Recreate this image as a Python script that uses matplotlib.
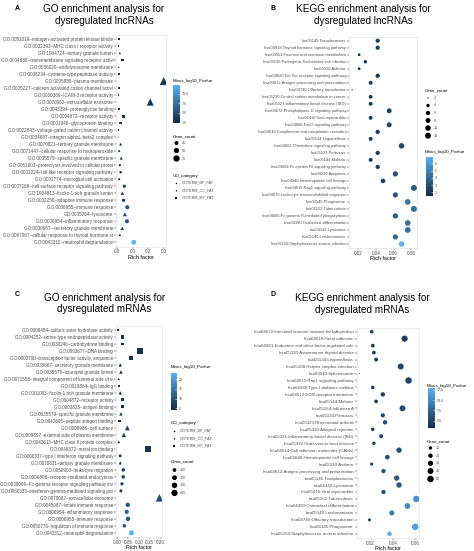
import numpy as np
import matplotlib
matplotlib.use("Agg")
import matplotlib.pyplot as plt
from matplotlib.colors import LinearSegmentedColormap, Normalize
from matplotlib.cm import ScalarMappable

plt.rcParams['font.family'] = ['Liberation Sans', 'DejaVu Sans']

# ---------------- data ----------------
labelsA = [
    "GO:0051019~mitogen-activated protein kinase bindin",
    "GO:0032393~MHC class I receptor activity",
    "GO:1904724~tertiary granule lumen",
    "GO:0004888~transmembrane signaling receptor activi",
    "GO:0036020~endolysosome membrane",
    "GO:0008234~cysteine-type peptidase activity",
    "GO:0005886~plasma membrane",
    "GO:0005227~calcium activated cation channel activi",
    "GO:0030369~ICAM-3 receptor activity",
    "GO:0070062~extracellular exosome",
    "GO:0043394~proteoglycan binding",
    "GO:0004872~receptor activity",
    "GO:0001948~glycoprotein binding",
    "GO:0022843~voltage-gated cation channel activity",
    "GO:0034687~integrin alphaL-beta2 complex",
    "GO:0070821~tertiary granule membrane",
    "GO:0071447~cellular response to hydroperoxide",
    "GO:0035579~specific granule membrane",
    "GO:0051603~proteolysis involved in cellular protei",
    "GO:0002224~toll-like receptor signaling pathway",
    "GO:0001774~microglial cell activation",
    "GO:0007166~cell surface receptor signaling pathway",
    "GO:1904813~ficolin-1-rich granule lumen",
    "GO:0002250~adaptive immune response",
    "GO:0006955~immune response",
    "GO:0005764~lysosome",
    "GO:0006954~inflammatory response",
    "GO:0030667~secretory granule membrane",
    "GO:0097067~cellular response to thyroid hormone st",
    "GO:0043312~neutrophil degranulation",
]
catA = ['MF', 'MF', 'CC', 'MF', 'CC', 'MF', 'CC', 'MF', 'MF', 'CC',
        'MF', 'MF', 'MF', 'MF', 'CC', 'CC', 'BP', 'CC', 'BP', 'BP',
        'BP', 'BP', 'CC', 'BP', 'BP', 'CC', 'BP', 'CC', 'BP', 'BP']
richA = [0.013, 0.009, 0.017, 0.035, 0.009, 0.013, 0.300, 0.013, 0.009, 0.213,
         0.013, 0.039, 0.022, 0.009, 0.007, 0.022, 0.013, 0.026, 0.017, 0.022,
         0.013, 0.046, 0.033, 0.041, 0.065, 0.050, 0.063, 0.033, 0.017, 0.107]
countA = [6, 3, 5, 12, 3, 6, 95, 6, 3, 72,
          6, 14, 8, 3, 2, 8, 5, 9, 6, 8,
          5, 15, 12, 15, 26, 18, 25, 12, 5, 40]
pvalA = [2.8, 2.5, 2.9, 3.0, 2.5, 2.8, 3.5, 2.8, 2.5, 3.3,
         2.8, 3.2, 2.9, 2.5, 2.4, 3.0, 2.7, 3.2, 2.8, 3.0,
         2.7, 3.6, 3.4, 3.9, 5.5, 4.5, 5.0, 3.5, 2.7, 12.2]

labelsB = [
    "hsa05145:Toxoplasmosis",
    "hsa04918:Thyroid hormone signaling pathway",
    "hsa00051:Fructose and mannose metabolism",
    "hsa05130:Pathogenic Escherichia coli infection",
    "hsa05310:Asthma",
    "hsa04620:Toll-like receptor signaling pathway",
    "hsa04612:Antigen processing and presentation",
    "hsa04740:Olfactory transduction",
    "hsa05230:Central carbon metabolism in cancer",
    "hsa05321:Inflammatory bowel disease (IBD)",
    "hsa04072:Phospholipase D signaling pathway",
    "hsa05416:Viral myocarditis",
    "hsa04068:FoxO signaling pathway",
    "hsa04610:Complement and coagulation cascades",
    "hsa05134:Legionellosis",
    "hsa04062:Chemokine signaling pathway",
    "hsa05133:Pertussis",
    "hsa05144:Malaria",
    "hsa04664:Fc epsilon RI signaling pathway",
    "hsa04210:Apoptosis",
    "hsa04640:Hematopoietic cell lineage",
    "hsa04015:Rap1 signaling pathway",
    "hsa04670:Leukocyte transendothelial migration",
    "hsa04145:Phagosome",
    "hsa05152:Tuberculosis",
    "hsa04666:Fc gamma R-mediated phagocytosis",
    "hsa04380:Osteoclast differentiation",
    "hsa04142:Lysosome",
    "hsa05140:Leishmaniasis",
    "hsa05150:Staphylococcus aureus infection",
]
richB = [0.042, 0.042, 0.021, 0.028, 0.021, 0.042, 0.034, 0.013, 0.034, 0.034,
         0.055, 0.034, 0.055, 0.042, 0.034, 0.069, 0.042, 0.034, 0.042, 0.062,
         0.048, 0.083, 0.062, 0.076, 0.083, 0.062, 0.076, 0.076, 0.062, 0.069]
countB = [6, 6, 3, 4, 3, 6, 5, 2, 5, 5,
          8, 5, 8, 6, 5, 10, 6, 5, 6, 9,
          7, 12, 9, 11, 12, 9, 11, 11, 9, 10]
pvalB = [2.3, 2.3, 1.8, 1.8, 1.7, 2.2, 2.0, 1.5, 2.0, 2.0,
         2.5, 2.0, 2.5, 2.2, 2.0, 2.6, 2.3, 2.0, 2.3, 3.0,
         2.3, 3.6, 3.2, 4.5, 4.3, 3.5, 4.3, 4.3, 4.0, 6.9]

labelsC = [
    "GO:0008484~sulfuric ester hydrolase activity",
    "GO:0004252~serine-type endopeptidase activity",
    "GO:0030246~carbohydrate binding",
    "GO:0003677~DNA binding",
    "GO:0003700~transcription factor activity, sequence",
    "GO:0030667~secretory granule membrane",
    "GO:0035578~azurophil granule lumen",
    "GO:0071556~integral component of lumenal side of e",
    "GO:0019864~IgG binding",
    "GO:0101003~ficolin-1-rich granule membrane",
    "GO:0004872~receptor activity",
    "GO:0003823~antigen binding",
    "GO:0035579~specific granule membrane",
    "GO:0042605~peptide antigen binding",
    "GO:0009986~cell surface",
    "GO:0009897~external side of plasma membrane",
    "GO:0042613~MHC class II protein complex",
    "GO:0046872~metal ion binding",
    "GO:0060337~type I interferon signaling pathway",
    "GO:0070821~tertiary granule membrane",
    "GO:0050900~leukocyte migration",
    "GO:0006898~receptor-mediated endocytosis",
    "GO:0038096~Fc-gamma receptor signaling pathway inv",
    "GO:0060333~interferon-gamma-mediated signaling pat",
    "GO:0070062~extracellular exosome",
    "GO:0045087~innate immune response",
    "GO:0006954~inflammatory response",
    "GO:0006955~immune response",
    "GO:0050776~regulation of immune response",
    "GO:0043312~neutrophil degranulation",
]
catC = ['MF', 'MF', 'MF', 'MF', 'MF', 'CC', 'CC', 'CC', 'MF', 'CC',
        'MF', 'MF', 'CC', 'MF', 'CC', 'CC', 'CC', 'MF', 'BP', 'CC',
        'BP', 'BP', 'BP', 'BP', 'CC', 'BP', 'BP', 'BP', 'BP', 'BP']
richC = [0.003, 0.025, 0.022, 0.105, 0.063, 0.013, 0.016, 0.006, 0.006, 0.013,
         0.025, 0.025, 0.016, 0.010, 0.046, 0.030, 0.006, 0.141, 0.013, 0.013,
         0.027, 0.027, 0.021, 0.016, 0.195, 0.048, 0.043, 0.049, 0.032, 0.065]
countC = [5, 70, 60, 330, 230, 45, 50, 15, 20, 40,
          70, 70, 45, 30, 140, 100, 20, 420, 40, 40,
          80, 80, 60, 50, 460, 150, 140, 160, 90, 230]
pvalC = [4.1, 5.5, 5.0, 5.0, 5.2, 5.5, 5.0, 4.5, 4.6, 5.0,
         5.5, 5.5, 5.3, 4.8, 7.0, 6.0, 4.6, 5.2, 5.5, 5.0,
         7.0, 7.0, 6.2, 5.5, 9.5, 9.5, 12.0, 10.0, 11.0, 23.1]

labelsD = [
    "hsa04672:Intestinal immune network for IgA product",
    "hsa04510:Focal adhesion",
    "hsa04961:Endocrine and other factor-regulated calc",
    "hsa05320:Autoimmune thyroid disease",
    "hsa05134:Legionellosis",
    "hsa05168:Herpes simplex infection",
    "hsa03040:Spliceosome",
    "hsa04015:Rap1 signaling pathway",
    "hsa04940:Type I diabetes mellitus",
    "hsa04512:ECM-receptor interaction",
    "hsa05144:Malaria",
    "hsa05164:Influenza A",
    "hsa05133:Pertussis",
    "hsa05323:Rheumatoid arthritis",
    "hsa05330:Allograft rejection",
    "hsa05321:Inflammatory bowel disease (IBD)",
    "hsa05332:Graft-versus-host disease",
    "hsa04514:Cell adhesion molecules (CAMs)",
    "hsa04640:Hematopoietic cell lineage",
    "hsa05310:Asthma",
    "hsa04612:Antigen processing and presentation",
    "hsa05145:Toxoplasmosis",
    "hsa04142:Lysosome",
    "hsa05416:Viral myocarditis",
    "hsa05152:Tuberculosis",
    "hsa04380:Osteoclast differentiation",
    "hsa05140:Leishmaniasis",
    "hsa04740:Olfactory transduction",
    "hsa04145:Phagosome",
    "hsa05150:Staphylococcus aureus infection",
]
richD = [0.021, 0.0505, 0.022, 0.023, 0.025, 0.047, 0.010, 0.054, 0.022, 0.031,
         0.025, 0.0486, 0.031, 0.033, 0.022, 0.0295, 0.023, 0.0455, 0.035, 0.021,
         0.0316, 0.0434, 0.0455, 0.0316, 0.061, 0.053, 0.039, 0.019, 0.060, 0.037]
countD = [12, 45, 13, 13, 15, 42, 1, 50, 11, 20,
          13, 40, 18, 20, 11, 16, 11, 33, 22, 8,
          18, 32, 33, 18, 52, 38, 28, 8, 50, 22]
pvalD = [4.5, 4.5, 4.0, 4.2, 4.5, 5.0, 3.1, 5.0, 4.0, 4.5,
         4.2, 5.5, 5.0, 5.5, 4.5, 5.0, 4.5, 6.0, 5.5, 4.2,
         5.5, 6.5, 6.5, 5.5, 10.5, 10.0, 9.0, 5.0, 11.5, 12.9]

go_categories = ['BP', 'CC', 'MF']
go_cat_labels = ['GOTERM_BP_FAT', 'GOTERM_CC_FAT', 'GOTERM_MF_FAT']

# ---------------- style ----------------
W, H = 474, 551
DPI = 100
cmap = LinearSegmentedColormap.from_list('gg', ['#132B43', '#56B1F7'])
shape_map = {'BP': 'o', 'CC': '^', 'MF': 's'}
shape_scale = {'BP': 1.0, 'CC': 1.15, 'MF': 0.9}
TXT = '#4D4D4D'

fig = plt.figure(figsize=(W / DPI, H / DPI), dpi=DPI)
fig.patch.set_facecolor('white')


def rect(l, t, r, b):
    return [l / W, 1 - b / H, (r - l) / W, (b - t) / H]


def diam(c, cmin, cmax, dmin, dmax):
    c = np.asarray(c, dtype=float)
    return dmin + (dmax - dmin) * np.sqrt((c - cmin) / (cmax - cmin))


def s_of(d_px):
    return (np.asarray(d_px) * 72.0 / DPI) ** 2


def panel(box, labels, rich, pval, count, cats, xticks, xticklabels, dmin, dmax, lab_fs):
    ax = fig.add_axes(rect(*box))
    n = len(labels)
    y = np.arange(n, 0, -1)
    rich = np.asarray(rich)
    cnt = np.asarray(count)
    pv = np.asarray(pval)
    norm = Normalize(vmin=pv.min(), vmax=pv.max())
    d = diam(cnt, cnt.min(), cnt.max(), dmin, dmax)
    if cats is None:
        cats = ['BP'] * n
    cats = np.asarray(cats)
    for c in ['BP', 'CC', 'MF']:
        m = cats == c
        if m.any():
            ax.scatter(rich[m], y[m], s=s_of(d[m] * shape_scale[c]), c=pv[m], cmap=cmap,
                       norm=norm, marker=shape_map[c], linewidths=0, zorder=3)
    rng = rich.max() - rich.min()
    ax.set_xlim(rich.min() - 0.05 * rng, rich.max() + 0.05 * rng)
    ax.set_ylim(0.4, n + 0.6)
    ax.set_yticks(y)
    ax.set_yticklabels(labels, fontsize=lab_fs, color=TXT)
    ax.set_xticks(xticks)
    ax.set_xticklabels(xticklabels, fontsize=3.3, color=TXT)
    ax.tick_params(axis='both', length=1.3, width=0.35, color='#333333', pad=0.7)
    ax.set_xlabel('Rich factor', fontsize=3.9, color='black', labelpad=0.2)
    for sp in ax.spines.values():
        sp.set_color('#E3E3E3')
        sp.set_linewidth(0.5)
    ax.set_facecolor('white')
    return ax, norm, (cnt.min(), cnt.max())


def colorbar(box, norm, ticks, ticklabels):
    cax = fig.add_axes(rect(*box))
    cb = fig.colorbar(ScalarMappable(norm=norm, cmap=cmap), cax=cax)
    cb.set_ticks(ticks)
    cb.set_ticklabels(ticklabels)
    cb.outline.set_visible(False)
    cax.tick_params(labelsize=2.6, length=1.2, width=0.4, colors=TXT, direction='in', pad=1.6)
    cax.tick_params(color='white')
    return cb


# marker diameter ranges (px) per panel
dA = (1.0, 7.0)
dB = (1.3, 6.0)
dC = (1.4, 6.6)
dD = (1.0, 6.6)

# ---------------- panels ----------------
axA, normA, crA = panel((116, 34.8, 166, 246.5), labelsA, richA, pvalA, countA, catA,
                        [0.0, 0.1, 0.2, 0.3], ['0.0', '0.1', '0.2', '0.3'], dA[0], dA[1], 3.35)
axB, normB, crB = panel((349, 36.5, 417, 248.2), labelsB, richB, pvalB, countB, None,
                        [0.02, 0.04, 0.06, 0.08], ['0.02', '0.04', '0.06', '0.08'], dB[0], dB[1], 2.85)
axC, normC, crC = panel((116, 325.8, 161.5, 537.0), labelsC, richC, pvalC, countC, catC,
                        [0.0, 0.05, 0.10, 0.15, 0.20], ['0.00', '0.05', '0.10', '0.15', '0.20'],
                        dC[0], dC[1], 3.25)
axD, normD, crD = panel((356.5, 327.5, 419.2, 538.0), labelsD, richD, pvalD, countD, None,
                        [0.02, 0.04, 0.06], ['0.02', '0.04', '0.06'], dD[0], dD[1], 3.2)

# overlay for titles and legends (pixel coordinates)
ov = fig.add_axes([0, 0, 1, 1], zorder=10)
ov.set_xlim(0, W)
ov.set_ylim(H, 0)
ov.axis('off')
ov.patch.set_visible(False)

TFS = 7.2
for (lx, ly, letter, cx, y1, y2, l2) in [
        (17, 9, 'A', 104, 8.5, 20.5, 'dysregulated lncRNAs'),
        (273, 8, 'B', 363, 8.5, 20.5, 'dysregulated lncRNAs'),
        (17, 294, 'C', 104.5, 298, 309.5, 'dysregulated mRNAs'),
        (273, 294, 'D', 362, 298, 310, 'dysregulated mRNAs')]:
    ov.text(lx, ly, letter, fontsize=5, fontweight='bold', ha='center', va='center')
    l1 = 'GO enrichment analysis for' if letter in 'AC' else 'KEGG enrichment analysis for'
    ov.text(cx, y1, l1, fontsize=TFS, ha='center', va='center')
    ov.text(cx, y2, l2, fontsize=TFS, ha='center', va='center')

LT = 3.2   # legend title size
LL = 2.7   # legend label size


def size_legend(x, ytitle, ys, values, crange, dr):
    ov.text(x - 1, ytitle, 'Gene_count', fontsize=LT, ha='left', va='center')
    dd = diam(values, crange[0], crange[1], dr[0], dr[1])
    ov.scatter([x + 2.5] * len(values), ys, s=s_of(dd), c='black', marker='o', linewidths=0)
    for yy, v in zip(ys, values):
        ov.text(x + 8, yy, str(v), fontsize=LL, ha='left', va='center', color=TXT)


def shape_legend(x, ytitle, ys):
    ov.text(x - 1, ytitle, 'GO_category', fontsize=LT, ha='left', va='center')
    for yy, c, lab in zip(ys, go_categories, go_cat_labels):
        ov.scatter([x + 2.5], [yy], s=s_of(1.5 * shape_scale[c]), c='black',
                   marker=shape_map[c], linewidths=0)
        ov.text(x + 8, yy, lab, fontsize=LL, ha='left', va='center', color=TXT)


# Panel A legends
ov.text(173, 81, 'Minus_log10_Pvalue', fontsize=LT, ha='left', va='center')
colorbar((173, 85, 180, 123), normA, [2.5, 5.0, 7.5, 10.0], ['2.5', '5.0', '7.5', '10.0'])
size_legend(174, 136.5, [143, 150.5, 158.5], [25, 50, 75], crA, dA)
shape_legend(174, 175.5, [182.7, 190, 197.5])

# Panel B legends
size_legend(425.5, 90, [98, 105.5, 113, 120.5, 128, 135.7], [2, 4, 6, 8, 10, 12], crB, dB)
ov.text(425, 151.7, 'Minus_log10_Pvalue', fontsize=LT, ha='left', va='center')
colorbar((426, 156.7, 432.7, 196), normB, [2, 3, 4, 5, 6], ['2', '3', '4', '5', '6'])

# Panel C legends
ov.text(171, 367, 'Minus_log10_Pvalue', fontsize=LT, ha='left', va='center')
colorbar((170.5, 373, 177, 410), normC, [5, 10, 15, 20], ['5', '10', '15', '20'])
shape_legend(172, 423, [430.5, 438, 445.7])
size_legend(172, 461.5, [470, 477.7, 485.3, 493], [100, 200, 300, 400], crC, dC)

# Panel D legends
ov.text(427, 386, 'Minus_log10_Pvalue', fontsize=LT, ha='left', va='center')
colorbar((428, 388.3, 434.7, 428.3), normD, [5.0, 7.5, 10.0, 12.5], ['5.0', '7.5', '10.0', '12.5'])
size_legend(428, 441, [448, 455.7, 463.3, 471, 479], [10, 20, 30, 40, 50], crD, dD)

fig.savefig('out.png', dpi=DPI, facecolor='white')
